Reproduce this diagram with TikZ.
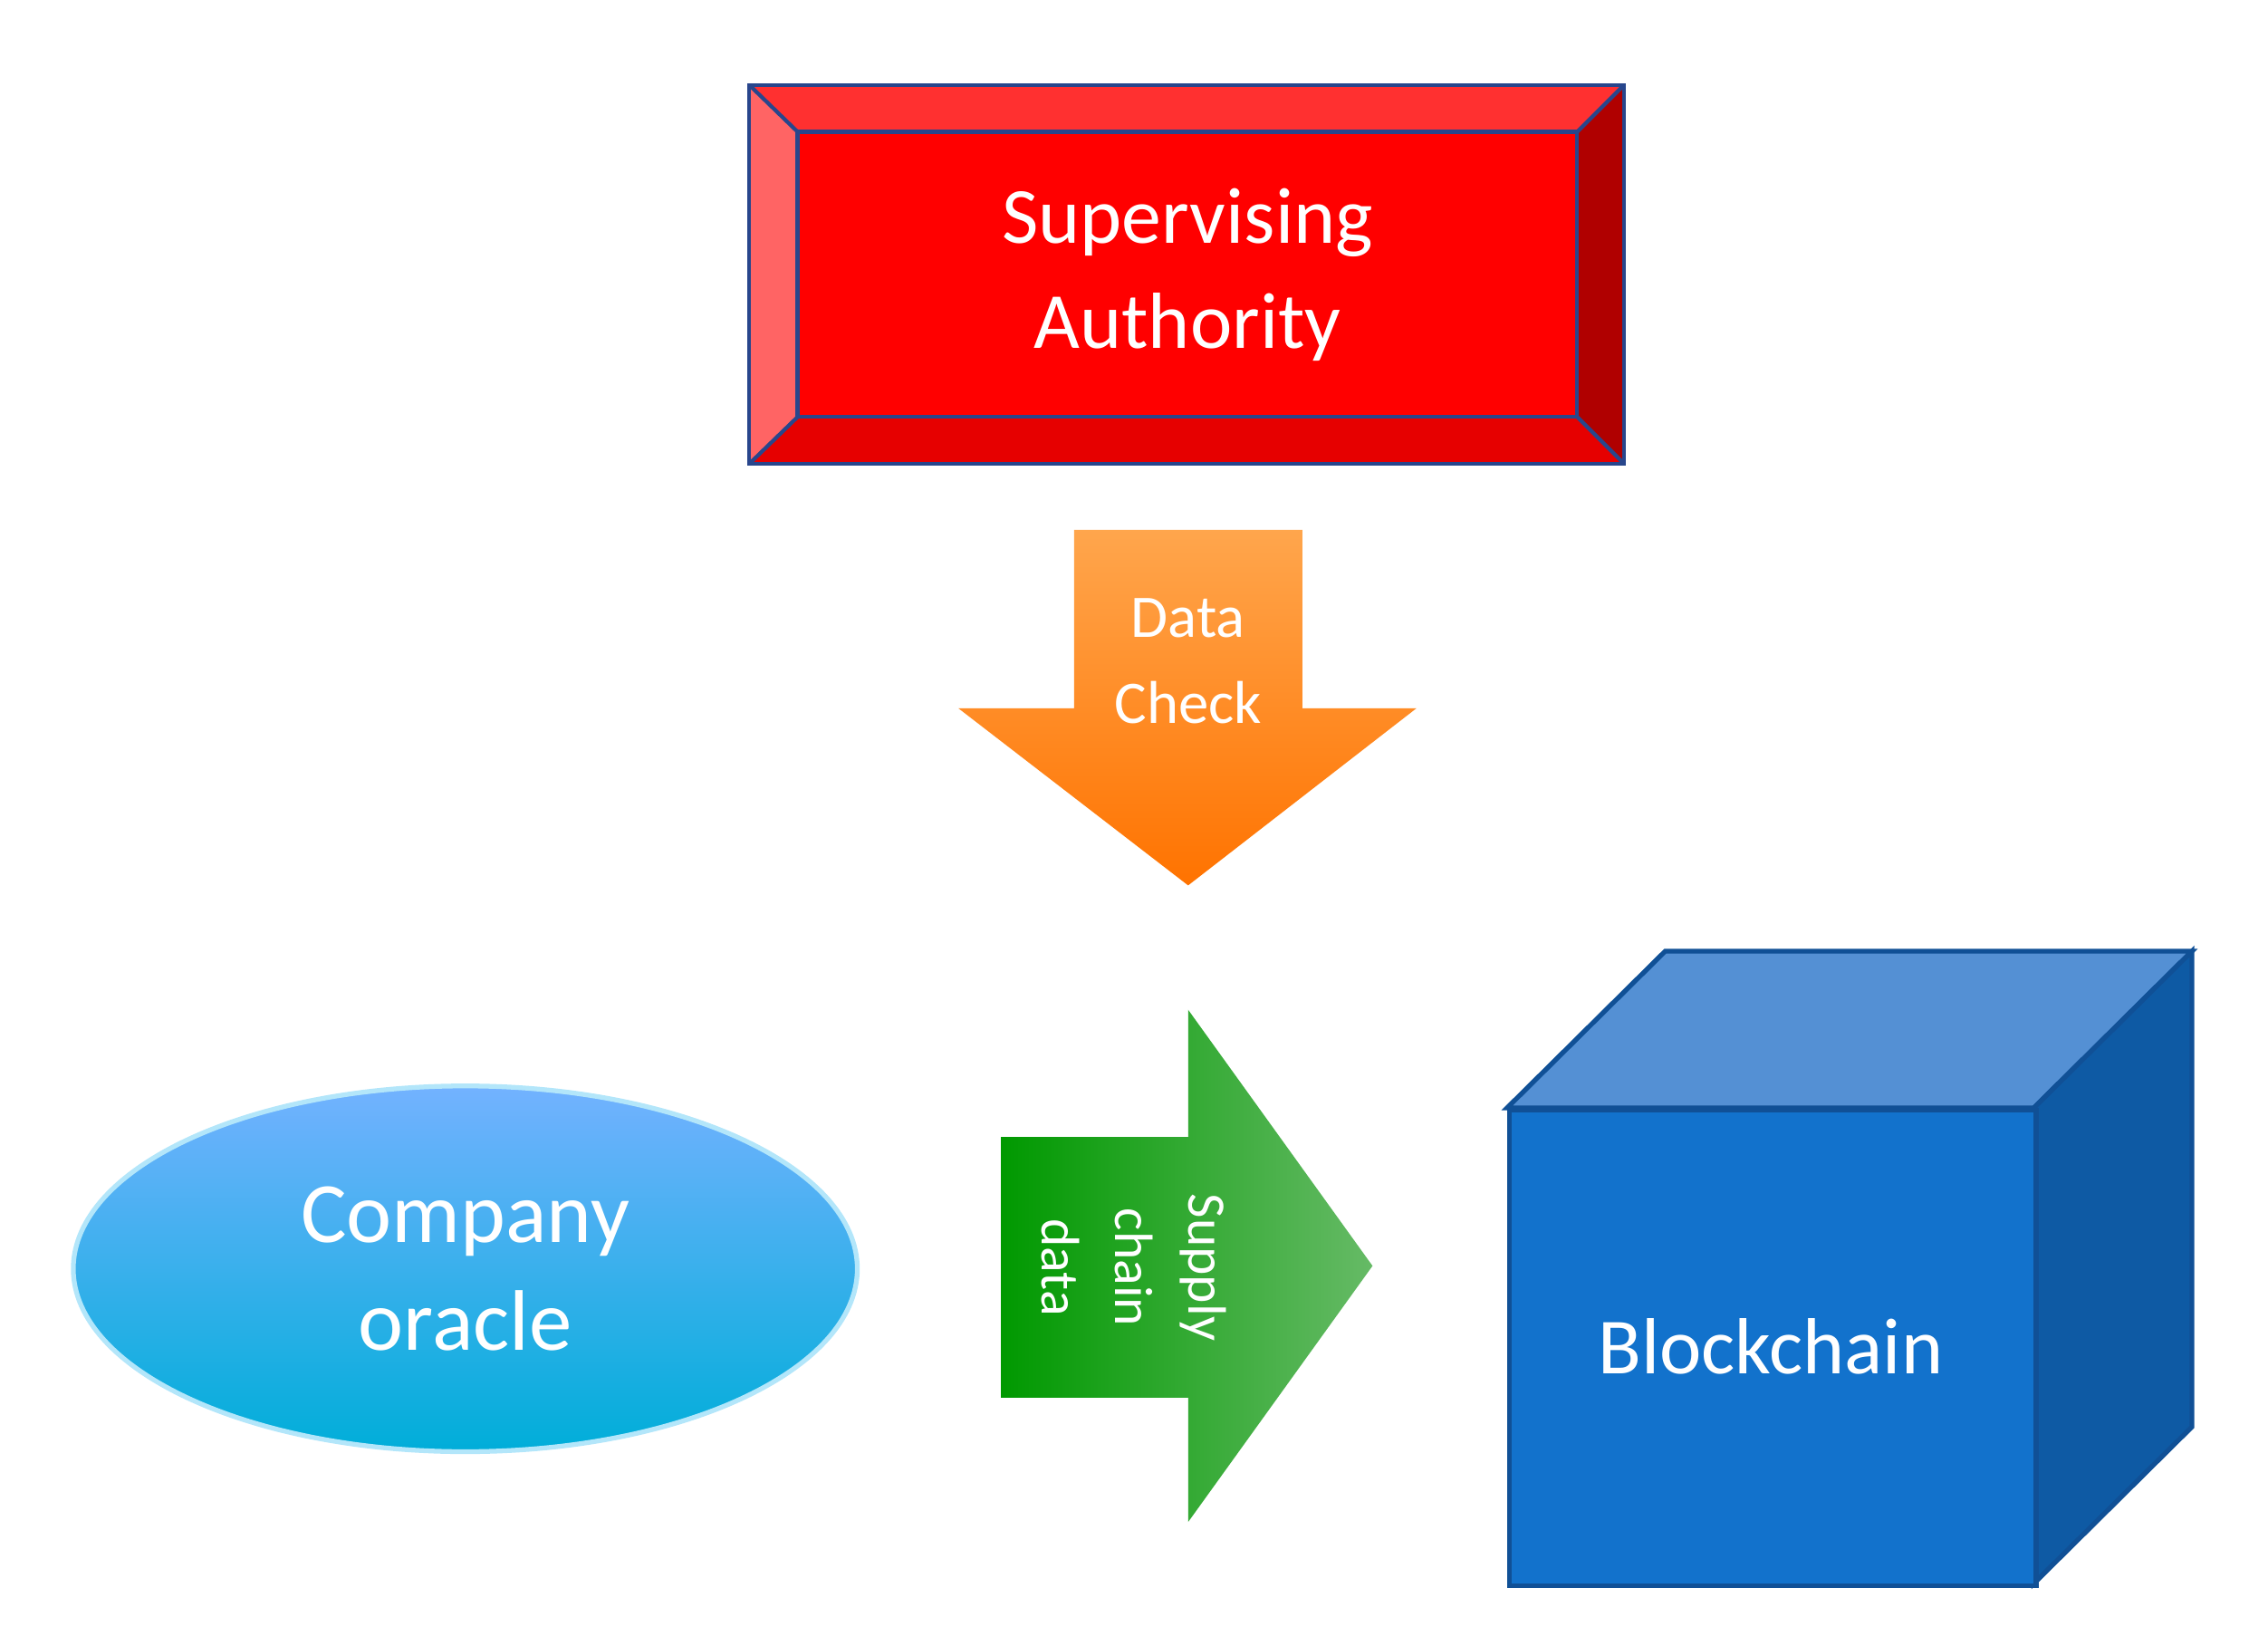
\documentclass[tikz,border=0pt]{standalone}
\usepackage{fontspec}
\setmainfont{Carlito}
\usetikzlibrary{shapes.geometric,positioning}
\definecolor{redtop}{RGB}{255,48,48}
\definecolor{redleft}{RGB}{255,100,100}
\definecolor{redright}{RGB}{176,0,0}
\definecolor{redbot}{RGB}{230,0,0}
\definecolor{bevelline}{RGB}{40,70,140}
\definecolor{cubefront}{RGB}{18,114,204}
\definecolor{cubetop}{RGB}{84,144,212}
\definecolor{cubeside}{RGB}{14,90,164}
\definecolor{cubeline}{RGB}{16,80,150}
\tikzset{
	txt/.style = {text=white, align=center},
	bevel/.style = {draw=bevelline, line width=1.2pt},
	cubeface/.style = {draw=cubeline, line width=1.5pt}
}
\begin{document}
\begin{tikzpicture}[x=0.016155cm, y=-0.016155cm]
    \useasboundingbox (0,0) rectangle (1550,1124.7);
    % supervising authority block
    \fill [redtop] (512,58) -- (1110,58) -- (1078,90) -- (545,90) -- cycle;
    \fill [redleft] (512,58) -- (545,90) -- (545,285) -- (512,317) -- cycle;
    \fill [redright] (1110,58) -- (1110,317) -- (1078,285) -- (1078,90) -- cycle;
    \fill [redbot] (512,317) -- (545,285) -- (1078,285) -- (1110,317) -- cycle;
    \node [bevel, fill=red, minimum width=533*0.16155mm, minimum height=195*0.16155mm,
        txt, font=\fontsize{25}{33}\selectfont] (authority) at (811.5,187.5) {Supervising\\Authority};
    \draw [bevel] (512,58) rectangle (1110,317);
    \draw [bevel] (512,58) -- (545,90) (1110,58) -- (1078,90)
        (512,317) -- (545,285) (1110,317) -- (1078,285);

    % data check arrow
    \shade [top color=orange!70!white, bottom color=orange!90!red]
        (734,362) -- (890,362) -- (890,484) -- (968,484) -- (812,605)
        -- (655,484) -- (734,484) -- cycle;
    \node [txt, font=\fontsize{19}{27}\selectfont] (check) at (812,452) {Data\\Check};

    % company oracle
    \node [ellipse, minimum width=536*0.16155mm, minimum height=250*0.16155mm,
        top color=cyan!45!blue!55!white, bottom color=cyan!80!blue!85!black,
        draw=cyan!30!white, line width=1.5pt] (oracle) at (318,867) {};
    \node [txt, font=\fontsize{27}{34}\selectfont] (oracletext) at (oracle) {Company\\oracle};

    % supply chain data arrow
    \shade [left color=green!60!black, right color=green!55!black!60!white]
        (684,777) -- (812,777) -- (812,690) -- (938,865) -- (812,1040)
        -- (812,955) -- (684,955) -- cycle;
    \node [txt, rotate=-90, font=\fontsize{17}{23}\selectfont] (supply) at (775,866)
        {Supply\\chain\\data};

    % blockchain cube
    \fill [cubetop, cubeface] (1030,757) -- (1138,650) -- (1498,650) -- (1390,757) -- cycle;
    \fill [cubeside, cubeface] (1390,757) -- (1498,650) -- (1498,975) -- (1390,1082) -- cycle;
    \node [cubeface, fill=cubefront, minimum width=360*0.16155mm, minimum height=325*0.16155mm,
        anchor=north west] (front) at (1030,757) {};
    \node [txt, font=\fontsize{25}{30}\selectfont] (chain) at (1210,920) {Blockchain};
\end{tikzpicture}
\end{document}
